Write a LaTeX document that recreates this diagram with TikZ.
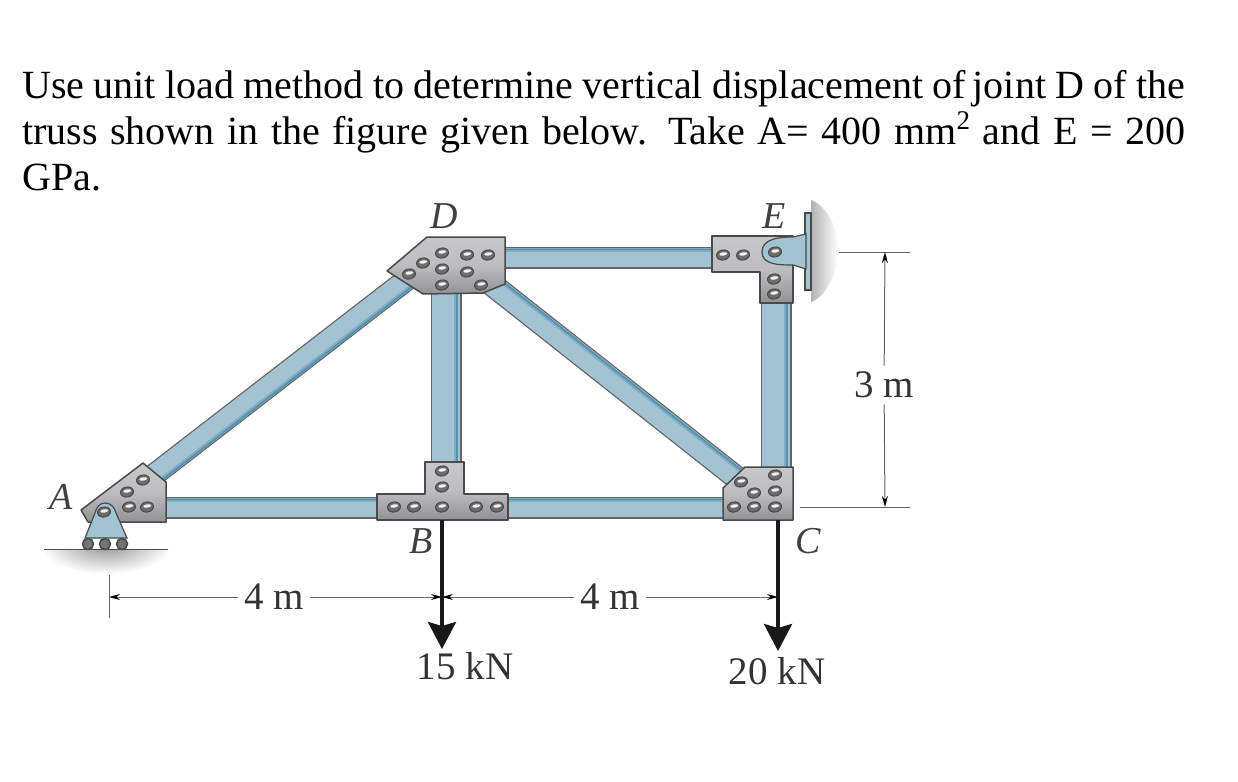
\documentclass[tikz,border=0pt]{standalone}
\usepackage{fontspec}
\setmainfont{Liberation Serif}
\usetikzlibrary{arrows.meta,positioning,calc}
\definecolor{barbody}{HTML}{A3C3D3}
\definecolor{barstrip}{HTML}{5592B0}
\definecolor{edgegray}{HTML}{4A4A4A}
\definecolor{platelight}{HTML}{C8C8CA}
\definecolor{platedark}{HTML}{929294}
\tikzset{
    plate/.style={draw=edgegray, line width=1.5pt, line join=round, top color=platelight, bottom color=platedark, middle color=platelight!80!platedark},
    clevis/.style={draw=edgegray, line width=1.2pt, fill=barbody},
    bolt/.style={draw=black!70, line width=1.1pt, fill=platedark!75!black},
    dimline/.style={draw=black!60, line width=1pt},
    dimarrow/.style={dimline, -{Stealth[length=11pt,width=6pt,black]}},
    load/.style={draw=black!90, line width=3.5pt, -{Stealth[length=27pt,width=28pt,inset=4pt]}},
    lbl/.style={font=\fontsize{39}{39}\selectfont, text=black!80, inner sep=0pt},
    jointlbl/.style={font=\fontsize{38}{38}\selectfont\itshape, text=black!75, inner sep=0pt},
}
% bar from #1 to #2, outer width #3, coloured strip shifted by (#4,#5)
\newcommand{\barfrom}[5]{%
    \draw[edgegray!85!white, line width=#3pt] (#1) -- (#2);
    \draw[barbody, line width=#3pt-2.6pt] (#1) -- (#2);
    \draw[barstrip!45!barbody, line width=4pt] ($(#1)+0.9*(#4,#5)$) -- ($(#2)+0.9*(#4,#5)$);
    \draw[barstrip, line width=1.8pt] ($(#1)+(#4,#5)$) -- ($(#2)+(#4,#5)$);
}
\newcommand{\boltsat}[1]{%
    \foreach \bx/\by in {#1} {
        \draw[bolt, shift={(\bx,\by)}, rotate=10] (0,0) ellipse (6.5pt and 5pt);
        \fill[white!90!gray, shift={(\bx,\by)}, rotate=10] (0.5pt,1pt) ellipse (4pt and 1.7pt);
    }
}
\begin{document}
\begin{tikzpicture}[x=1pt,y=-1pt]
    \useasboundingbox (0,0) rectangle (1238,781);
    % problem text
    \node[anchor=north west, inner sep=0pt, text width=1163pt, align=justify,
          font=\fontsize{40}{46}\selectfont] (statement) at (22,70)
        {Use unit load method to determine vertical displacement of\,joint D of the\linebreak
        truss shown in the figure given below. Take A= 400 mm\raisebox{15pt}{\fontsize{27}{27}\selectfont 2} and E = 200\linebreak
        GPa.};
    % wall and ground shadows
    \shade[left color=black!30, right color=white] (811,200) .. controls (825,205) and (838,225) .. (838,250) .. controls (838,275) and (825,297) .. (811,302) -- cycle;
    \begin{scope}
        \clip (44,549) rectangle (172,574);
        \shade[inner color=black!42, middle color=black!30, outer color=white] (106,545) ellipse (66pt and 29pt);
    \end{scope}
    % members
    \coordinate (Dsw) at (410,277);
    \coordinate (Asw) at (150,478);
    \coordinate (Dse) at (485,279);
    \coordinate (Cnw) at (742,482);
    \coordinate (Dbot) at (446,285);
    \coordinate (Btop) at (446,470);
    \coordinate (Ebot) at (776,295);
    \coordinate (Ctop) at (776,475);
    \coordinate (Aeast) at (160,507.5);
    \coordinate (Bwest) at (385,507.5);
    \coordinate (Beast) at (500,507.5);
    \coordinate (Cwest) at (730,507.5);
    \coordinate (Deast) at (500,257.5);
    \coordinate (Ewest) at (720,257.5);
    \barfrom{Dbot}{Btop}{31}{11}{0}
    \barfrom{Ebot}{Ctop}{31}{11}{0}
    \barfrom{Aeast}{Bwest}{22}{0}{-8}
    \barfrom{Beast}{Cwest}{22}{0}{-8}
    \barfrom{Deast}{Ewest}{22}{0}{-8}
    \barfrom{Asw}{Dsw}{23}{5.5}{7.1}
    \barfrom{Dse}{Cnw}{24}{5.5}{-7.1}
    % support at E
    \draw[clevis] (805,213) rectangle (811,290);
    % plates
    \path[plate] (81,510) -- (143,463) -- (166,482) -- (166,522) -- (88,522) -- cycle;
    \path[plate] (427,237) -- (505,237) -- (505,284) -- (483,293) -- (423,294) -- (387,271) -- cycle;
    \path[plate] (712,236) -- (793,236) -- (793,303) -- (760,303) -- (760,272) -- (712,272) -- cycle;
    \path[plate] (377,494) -- (425,494) -- (425,462) -- (464,462) -- (464,494) -- (508,494) -- (508,520) -- (377,520) -- cycle;
    \path[plate] (723,488) -- (745,467) -- (793,467) -- (793,520) -- (723,520) -- cycle;
    \draw[clevis] (806,234) -- (793,237) to[out=180,in=90] (762,252) to[out=-90,in=180] (793,265) -- (806,269) -- cycle;
    % support at A
    \draw[clevis] (85,538) -- (95,513) to[out=75,in=180] (105,503) to[out=0,in=105] (116,513) -- (127,538) -- cycle;
    \foreach \rx in {88,105,122} {
        \draw[edgegray, line width=1.5pt, fill=black!55] (\rx,544) circle (5.5pt);
    }
    \draw[edgegray, line width=1.5pt] (44,549.5) -- (168,549.5);
    % bolts
    \boltsat{143/480,127/492,129/507,147/507,104/512}
    \boltsat{442/253,467/255,488/255,423/263,409/274,442/269,467/272,442/285,481/285}
    \boltsat{723/255,743/255,775/252,774/279,774/294}
    \boltsat{442/471,442/487,394/507,414/507,442/507,476/507,497/507}
    \boltsat{775/475,741/482,754/493,775/491,734/507,754/507,775/507}
    % labels
    \node[jointlbl] (lblA) at (61,497) {A};
    \node[jointlbl] (lblB) at (421,541) {B};
    \node[jointlbl] (lblC) at (808,541) {C};
    \node[jointlbl] (lblD) at (444,216) {D};
    \node[jointlbl] (lblE) at (774,216) {E};
    \node[lbl] (fifteen) at (465,666) {15 kN};
    \node[lbl] (twenty) at (777,671) {20 kN};
    % dimensions
    \coordinate (tickA) at (109,597);
    \coordinate (tickB) at (442,597);
    \coordinate (tickC) at (778,597);
    \draw[dimline] (109,575) -- (109,618);
    \node[lbl, fill=white, inner xsep=6pt] (dimAB) at (274,597) {4 m};
    \node[lbl, fill=white, inner xsep=6pt] (dimBC) at (610,597) {4 m};
    \draw[dimarrow] (dimAB) -- (tickA);
    \draw[dimarrow] (dimAB) -- (tickB);
    \draw[dimarrow] (dimBC) -- (tickB);
    \draw[dimarrow] (dimBC) -- (tickC);
    \coordinate (topext) at (885,252);
    \coordinate (botext) at (885,507);
    \draw[dimline] (839,252) -- (910,252);
    \draw[dimline] (800,507) -- (910,507);
    \node[lbl, fill=white, inner ysep=6pt] (dimEC) at (884,385) {3 m};
    \draw[dimarrow] (dimEC) -- (topext);
    \draw[dimarrow] (dimEC) -- (botext);
    % loads
    \coordinate (Bload) at (442,520);
    \coordinate (Cload) at (778,520);
    \coordinate (Btip) at (442,649);
    \coordinate (Ctip) at (778,651);
    \draw[load] (Bload) -- (Btip);
    \draw[load] (Cload) -- (Ctip);
\end{tikzpicture}
\end{document}
